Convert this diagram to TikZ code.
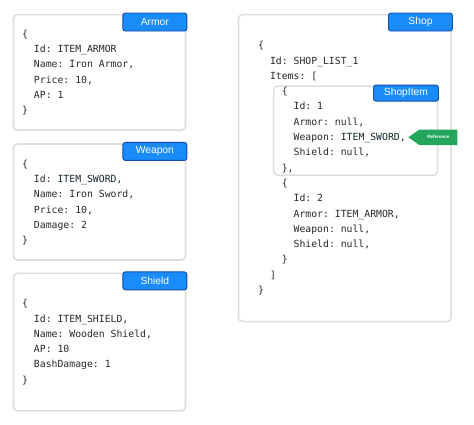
\documentclass[tikz,border=0pt]{standalone}
\usepackage{fontspec}
\setsansfont{Liberation Sans}
\setmonofont{DejaVu Sans Mono}
\usepackage{tikz}
\usetikzlibrary{shapes.symbols,positioning}
\definecolor{framecol}{RGB}{221,221,221}
\definecolor{tabcol}{RGB}{26,140,250}
\definecolor{tabedge}{RGB}{18,74,168}
\definecolor{refcol}{RGB}{34,166,92}
\definecolor{codecol}{RGB}{40,40,40}
\definecolor{idcol}{RGB}{18,40,46}
\tikzset{
  % object frame
  objbox/.style={rectangle, rounded corners=4pt, draw=framecol, line width=1.6pt, fill=white,
                 anchor=north west, inner sep=0pt, minimum width=#1},
  objbox/.default={172pt},
  % blue name tab
  nametab/.style={rectangle, rounded corners=2.5pt, draw=tabedge, line width=0.9pt, fill=tabcol,
                  text=white, font=\sffamily\fontsize{10.3}{12}\selectfont, minimum width=64pt,
                  minimum height=18pt, inner sep=0pt, anchor=north east},
  % code lines
  code/.style={anchor=north west, align=left, inner sep=0pt, text=codecol,
               font=\ttfamily\fontsize{9.8}{15.3}\selectfont},
  % green reference tag
  reftag/.style={signal, signal to=west, signal pointer angle=70, fill=refcol, text=white,
                 font=\sffamily\bfseries\fontsize{4.6}{5}\selectfont, minimum height=15.5pt,
                 minimum width=49pt, inner xsep=4pt, inner ysep=0pt, anchor=west},
}
\newcommand{\cind}{\phantom{00}}
\newcommand{\strutA}{\rule{0pt}{9pt}}

\begin{document}
\begin{tikzpicture}[x=1pt, y=-1pt]
  \useasboundingbox (0,0) rectangle (474,425);

  % ── item objects ──
  \node[objbox, minimum height=115.5pt] (armor) at (12.7,13.8) {};
  \node[objbox, minimum height=116pt] (weapon) at (12.7,143.2) {};
  \node[objbox, minimum height=137.5pt] (shield) at (12.7,272.6) {};

  \node[code] (armorcode) at (22,28) {\strutA\{\\
    \cind Id: ITEM\_ARMOR\\
    \cind Name: Iron Armor,\\
    \cind Price: 10,\\
    \cind AP: 1\\
    \}};
  \node[code] (weaponcode) at (22,158) {\strutA\{\\
    \cind Id: \textcolor{idcol}{ITEM\_SWORD},\\
    \cind Name: Iron Sword,\\
    \cind Price: 10,\\
    \cind Damage: 2\\
    \}};
  \node[code] (shieldcode) at (22,297.5) {\strutA\{\\
    \cind Id: ITEM\_SHIELD,\\
    \cind Name: Wooden Shield,\\
    \cind AP: 10\\
    \cind BashDamage: 1\\
    \}};

  \node[nametab] (armortab) at ([xshift=1pt,yshift=1.2pt]armor.north east) {Armor};
  \node[nametab] (weapontab) at ([xshift=1pt,yshift=1.2pt]weapon.north east) {Weapon};
  \node[nametab] (shieldtab) at ([xshift=1pt,yshift=1.2pt]shield.north east) {Shield};

  % ── shop object ──
  \node[objbox=212.5pt, minimum height=307pt] (shop) at (237.8,13.8) {};
  \node[objbox=164pt, minimum height=89pt, fill=none] (shopitem) at (272.8,85.3) {};

  \node[code] (shopcode) at (258,39.5) {\strutA\{\\
    \cind Id: SHOP\_LIST\_1\\
    \cind Items: [\\
    \cind\cind\{\\
    \cind\cind\cind Id: 1\\
    \cind\cind\cind Armor: null,\\
    \cind\cind\cind Weapon: \textcolor{idcol}{ITEM\_SWORD},\\
    \cind\cind\cind Shield: null,\\
    \cind\cind\},\\
    \cind\cind\{\\
    \cind\cind\cind Id: 2\\
    \cind\cind\cind Armor: ITEM\_ARMOR,\\
    \cind\cind\cind Weapon: null,\\
    \cind\cind\cind Shield: null,\\
    \cind\cind\}\\
    \cind ]\\
    \}};

  \node[nametab] (shoptab) at ([xshift=1pt,yshift=1.2pt]shop.north east) {Shop};
  \node[nametab, minimum height=16pt, minimum width=65pt] (shopitemtab)
    at ([xshift=0.5pt,yshift=0.6pt]shopitem.north east) {ShopItem};

  % reference marker
  \node[reftag] (ref) at (408,137.3) {Reference};
\end{tikzpicture}
\end{document}
